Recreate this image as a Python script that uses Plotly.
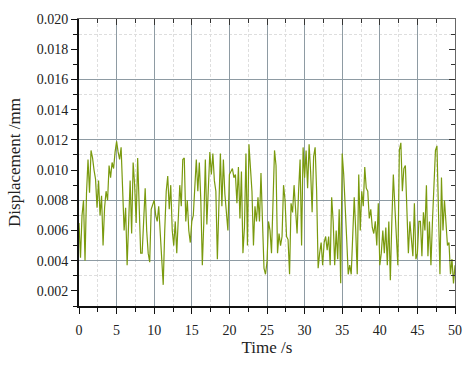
import numpy as np
import plotly.graph_objects as go

# displacement (mm) sampled every 0.2 s from 0 to 50 s
disp = [
 0.0065,0.0042,0.0070,0.0080,0.0040,0.0085,0.0107,0.0085,0.0113,0.0108,
 0.0100,0.0094,0.0075,0.0093,0.0070,0.0083,0.0050,0.0075,0.0086,0.0080,
 0.0103,0.0095,0.0105,0.0101,0.0112,0.0119,0.0112,0.0107,0.0115,0.0085,
 0.0060,0.0075,0.0037,0.0065,0.0093,0.0058,0.0105,0.0090,0.0065,0.0108,
 0.0070,0.0045,0.0045,0.0070,0.0088,0.0060,0.0045,0.0039,0.0074,0.0077,
 0.0080,0.0070,0.0066,0.0076,0.0056,0.0045,0.0024,0.0060,0.0086,0.0096,
 0.0074,0.0090,0.0060,0.0050,0.0066,0.0045,0.0074,0.0090,0.0076,0.0107,
 0.0108,0.0066,0.0080,0.0060,0.0052,0.0066,0.0070,0.0094,0.0107,0.0086,
 0.0105,0.0080,0.0037,0.0066,0.0107,0.0064,0.0095,0.0112,0.0097,0.0111,
 0.0093,0.0086,0.0041,0.0086,0.0111,0.0076,0.0107,0.0084,0.0070,0.0060,
 0.0097,0.0099,0.0101,0.0095,0.0097,0.0078,0.0102,0.0068,0.0099,0.0045,
 0.0062,0.0111,0.0050,0.0117,0.0097,0.0086,0.0050,0.0076,0.0066,0.0082,
 0.0066,0.0098,0.0066,0.0035,0.0031,0.0039,0.0066,0.0060,0.0045,0.0076,
 0.0113,0.0103,0.0045,0.0058,0.0050,0.0056,0.0090,0.0080,0.0056,0.0054,
 0.0031,0.0078,0.0072,0.0090,0.0076,0.0058,0.0086,0.0107,0.0050,0.0115,
 0.0095,0.0113,0.0088,0.0117,0.0099,0.0072,0.0109,0.0115,0.0086,0.0035,
 0.0045,0.0052,0.0037,0.0052,0.0056,0.0047,0.0056,0.0037,0.0082,0.0066,
 0.0037,0.0060,0.0041,0.0074,0.0025,0.0111,0.0097,0.0070,0.0054,0.0031,
 0.0037,0.0031,0.0062,0.0082,0.0060,0.0031,0.0097,0.0060,0.0086,0.0076,
 0.0102,0.0088,0.0086,0.0068,0.0074,0.0062,0.0058,0.0066,0.0050,0.0078,
 0.0037,0.0045,0.0060,0.0045,0.0062,0.0037,0.0066,0.0027,0.0066,0.0097,
 0.0076,0.0060,0.0037,0.0113,0.0118,0.0086,0.0101,0.0103,0.0076,0.0045,
 0.0066,0.0052,0.0043,0.0078,0.0041,0.0045,0.0066,0.0066,0.0043,0.0072,
 0.0060,0.0090,0.0043,0.0066,0.0037,0.0066,0.0090,0.0113,0.0116,0.0066,
 0.0031,0.0095,0.0060,0.0080,0.0066,0.0050,0.0052,0.0031,0.0041,0.0025,
 0.0037,
]
time = np.arange(len(disp)) * 0.2

x_range = [0, 50]
y_range = [0.001, 0.020]
y_ticks = [0.002, 0.004, 0.006, 0.008, 0.010, 0.012, 0.014, 0.016, 0.018, 0.020]
y_labels = ["0.002", "0.004", "0.006", "0.008", "0.010", "0.012", "0.014", "0.016", "0.018", "0.020"]

FONT = "Liberation Serif"
GRID = "#8e9ba3"
MINGRID = "#dedede"

fig = go.Figure()
fig.add_trace(go.Scatter(x=time, y=disp, mode="lines",
                         line=dict(color="#7a9a0e", width=1.2),
                         showlegend=False, hoverinfo="skip"))
# helper traces so overlay axes are drawn
fig.add_trace(go.Scatter(x=[None], y=[None], xaxis="x2", yaxis="y2", showlegend=False, hoverinfo="skip"))
fig.add_trace(go.Scatter(x=[None], y=[None], xaxis="x", yaxis="y3", showlegend=False, hoverinfo="skip"))

fig.update_layout(
    width=474, height=366,
    margin=dict(l=79, r=12, t=12, b=46),
    paper_bgcolor="white", plot_bgcolor="white",
    font=dict(family=FONT, size=14, color="#222"),
    xaxis=dict(range=x_range, tickmode="linear", tick0=0, dtick=5,
               ticks="outside", ticklen=6, tickwidth=1.3, tickcolor="#111",
               ticklabelstandoff=4,
               minor=dict(ticks="outside", dtick=2.5, ticklen=4, tickwidth=1.3, tickcolor="#111", showgrid=False),
               showgrid=False, zeroline=False,
               showline=True, linecolor="#111", linewidth=1.8,
               title=dict(text="Time /s", font=dict(family=FONT, size=17), standoff=4),
               tickfont=dict(family=FONT, size=14)),
    yaxis=dict(range=y_range, tickmode="array", tickvals=y_ticks, ticktext=y_labels,
               ticks="outside", ticklen=6, tickwidth=1.3, tickcolor="#111",
               minor=dict(ticks="outside", tickmode="linear", tick0=0.001, dtick=0.001, ticklen=4, tickwidth=1.3, tickcolor="#111", showgrid=False),
               showgrid=False, zeroline=False,
               showline=True, linecolor="#111", linewidth=1.8,
               title=dict(text="Displacement /mm", font=dict(family=FONT, size=17), standoff=12),
               tickfont=dict(family=FONT, size=14)),
    xaxis2=dict(range=x_range, overlaying="x", side="top", anchor="y",
                tickmode="linear", tick0=0, dtick=5, showticklabels=False,
                ticks="inside", ticklen=6, tickwidth=1.3, tickcolor="#333",
                showgrid=True, gridcolor=GRID, gridwidth=1,
                minor=dict(ticks="inside", dtick=2.5, ticklen=4, tickwidth=1.3, tickcolor="#333",
                           showgrid=True, gridcolor=MINGRID, griddash="3px,2px", gridwidth=1),
                zeroline=False, showline=True, linecolor="#666", linewidth=1.3),
    yaxis2=dict(range=y_range, overlaying="y", side="right", anchor="x2",
                tickmode="array", tickvals=y_ticks, showticklabels=False,
                ticks="inside", ticklen=6, tickwidth=1.3, tickcolor="#333",
                minor=dict(ticks="inside", tickmode="linear", tick0=0.001, dtick=0.001, ticklen=4, tickwidth=1.3, tickcolor="#333"),
                showgrid=False, zeroline=False, showline=True, linecolor="#666", linewidth=1.3),
    yaxis3=dict(range=y_range, overlaying="y", side="left", anchor="x",
                tickmode="linear", tick0=0, dtick=0.004, showticklabels=False, ticks="",
                showgrid=True, gridcolor=GRID, gridwidth=1,
                minor=dict(tickmode="linear", tick0=0.003, dtick=0.004, ticks="",
                           showgrid=True, gridcolor=MINGRID, griddash="3px,2px", gridwidth=1),
                zeroline=False, showline=False),
)

fig.write_html("out.html")
